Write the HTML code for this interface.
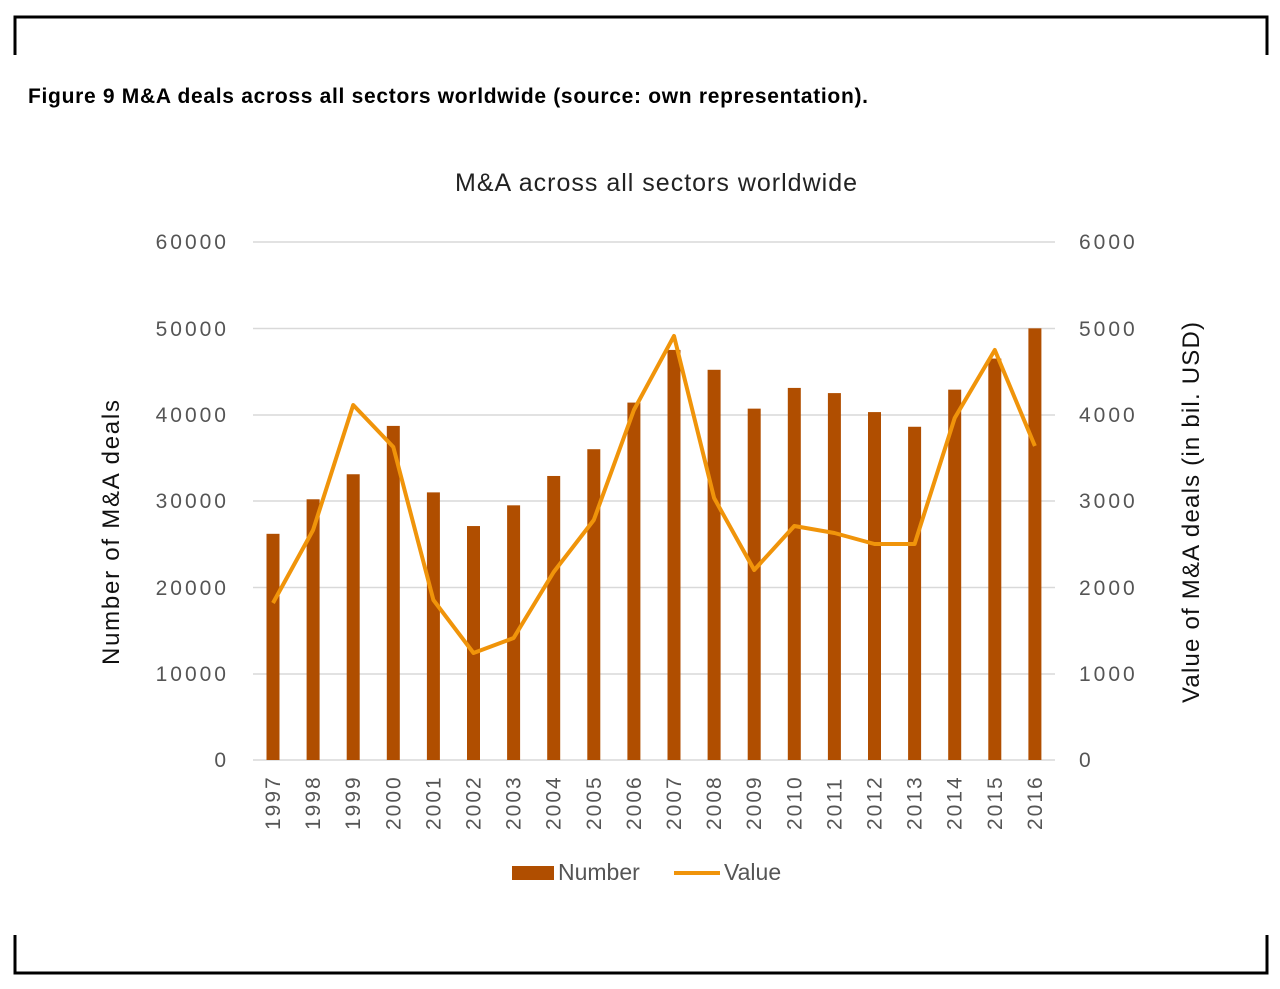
<!DOCTYPE html>
<html><head><meta charset="utf-8"><style>
html,body{margin:0;padding:0;background:#fff;}
svg{display:block;font-family:"Liberation Sans",sans-serif;}
</style></head><body>
<svg width="1280" height="989" viewBox="0 0 1280 989" xmlns="http://www.w3.org/2000/svg">
<path d="M15 55 V17 H1267 V55" fill="none" stroke="#000" stroke-width="3"/>
<path d="M15 935 V973 H1267 V935" fill="none" stroke="#000" stroke-width="3"/>
<text x="28" y="103" font-size="21" font-weight="bold" fill="#000" textLength="840" lengthAdjust="spacing">Figure 9 M&amp;A deals across all sectors worldwide (source: own representation).</text>
<text x="455" y="191" font-size="25" fill="#222" textLength="402" lengthAdjust="spacing">M&amp;A across all sectors worldwide</text>
<g stroke="#d9d9d9" stroke-width="1.5">
<line x1="253" x2="1055" y1="242" y2="242"/><line x1="253" x2="1055" y1="328.5" y2="328.5"/>
<line x1="253" x2="1055" y1="415" y2="415"/><line x1="253" x2="1055" y1="501" y2="501"/>
<line x1="253" x2="1055" y1="587.5" y2="587.5"/><line x1="253" x2="1055" y1="674" y2="674"/>
<line x1="253" x2="1055" y1="760" y2="760"/>
</g>
<g font-size="21" fill="#555" text-anchor="end" letter-spacing="3">
<text x="229" y="249">60000</text><text x="229" y="336">50000</text><text x="229" y="422">40000</text>
<text x="229" y="508">30000</text><text x="229" y="595">20000</text><text x="229" y="681">10000</text><text x="229" y="767">0</text>
</g>
<g font-size="21" fill="#555" text-anchor="start" letter-spacing="3">
<text x="1079" y="249">6000</text><text x="1079" y="336">5000</text><text x="1079" y="422">4000</text>
<text x="1079" y="508">3000</text><text x="1079" y="595">2000</text><text x="1079" y="681">1000</text><text x="1079" y="767">0</text>
</g>
<text transform="translate(119,665) rotate(-90)" font-size="24" fill="#111" textLength="265" lengthAdjust="spacing">Number of M&amp;A deals</text>
<text transform="translate(1199,703) rotate(-90)" font-size="24" fill="#111" textLength="381" lengthAdjust="spacing">Value of M&amp;A deals (in bil. USD)</text>
<g fill="#b04e00" id="bars"></g>
<g id="xl" font-size="21" fill="#555" letter-spacing="2"></g>
<polyline id="ln" fill="none" stroke="#f0940a" stroke-width="4" stroke-linejoin="round"/>
<rect x="512" y="866" width="42" height="14" fill="#b04e00"/>
<text x="558" y="880" font-size="23" fill="#555">Number</text>
<line x1="674" x2="720" y1="873" y2="873" stroke="#f0940a" stroke-width="4"/>
<text x="724" y="880" font-size="23" fill="#555">Value</text>
<script>
var n=[26200,30200,33100,38700,31000,27100,29500,32900,36000,41400,47500,45200,40700,43100,42500,40300,38600,42900,46500,50000];
var ly=[603,530,405,447,600,653,638,572,520,410,336,498,570,526,533,544,544,418,350,446];
var b=document.getElementById('bars'),xl=document.getElementById('xl'),pts=[];
var ns="http://www.w3.org/2000/svg";
for(var i=0;i<20;i++){var cx=273+i*40.1;var h=n[i]*0.008633;
var r=document.createElementNS(ns,'rect');r.setAttribute('x',cx-6.5);r.setAttribute('y',760-h);r.setAttribute('width',13);r.setAttribute('height',h);b.appendChild(r);
var t=document.createElementNS(ns,'text');t.setAttribute('transform','translate('+(cx+7)+',830) rotate(-90)');t.textContent=1997+i;xl.appendChild(t);
pts.push(cx+','+ly[i]);}
document.getElementById('ln').setAttribute('points',pts.join(' '));
</script>
</svg>
</body></html>
